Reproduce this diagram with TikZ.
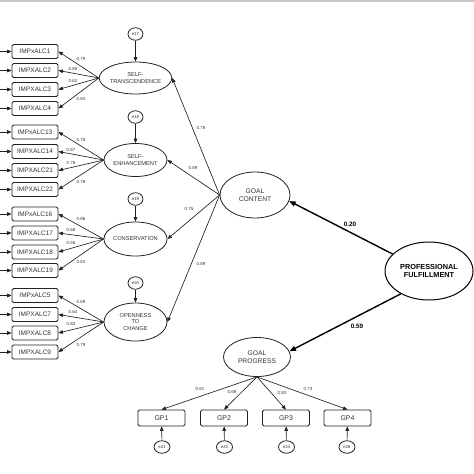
\documentclass[tikz,border=0pt]{standalone}
\usepackage{fontspec}
\setmainfont{Liberation Sans}
\usetikzlibrary{shapes.geometric,arrows.meta}
\definecolor{txt}{HTML}{333333}
\definecolor{ln}{HTML}{222222}
\tikzset{
  obs/.style={draw=ln,rectangle,rounded corners=1.5pt,line width=0.8pt,minimum width=46pt,minimum height=14pt,inner sep=0pt,text=txt,font=\fontsize{6.5}{7}\selectfont},
  gpbox/.style={draw=ln,rectangle,rounded corners=1.5pt,line width=0.8pt,minimum width=47pt,minimum height=16pt,inner sep=0pt,text=txt,font=\fontsize{6.9}{7}\selectfont},
  lat/.style={draw=ln,ellipse,line width=0.8pt,minimum width=63pt,minimum height=32pt,inner sep=0pt,align=center,text=txt,font=\fontsize{5.7}{6.6}\selectfont},
  err/.style={draw=ln,ellipse,line width=0.8pt,minimum width=15pt,minimum height=12.5pt,inner sep=0pt,text=txt,font=\fontsize{4.3}{5}\selectfont},
  arr/.style={draw=ln,line width=0.65pt,-{Triangle[length=4.5pt,width=3.6pt]}},
  thickarr/.style={draw=black,line width=1.4pt,-{Triangle[length=6.5pt,width=5pt]}},
  lbl/.style={text=txt,inner sep=0pt,font=\fontsize{4.4}{5}\selectfont},
  blbl/.style={text=black,inner sep=0pt,font=\bfseries\fontsize{6.3}{7}\selectfont},
}
\begin{document}
\begin{tikzpicture}[x=1pt,y=-1pt]
\useasboundingbox (0,0) rectangle (474,474);
\fill[white] (0,0) rectangle (474,474);
\fill[gray!45] (0,0) rectangle (474,2);

% ---------- group 1 ----------
\node[lat] (f1) at (135.5,78) {SELF-\\TRANSCENDENCE};
\node[err] (e17) at (135.5,34) {e17};
\draw[arr] (e17) -- (f1);
\node[obs] (b1) at (35,51.5) {IMPxALC1};
\node[obs] (b2) at (35,70.5) {IMPXALC2};
\node[obs] (b3) at (35,89.5) {IMPXALC3};
\node[obs] (b4) at (35,108.5) {IMPXALC4};
% ---------- group 2 ----------
\node[lat,minimum height=33pt] (f2) at (135.5,160) {SELF-\\ENHANCEMENT};
\node[err] (e18) at (135.5,117) {e18};
\draw[arr] (e18) -- (f2);
\node[obs] (b13) at (35,132) {IMPxALC13};
\node[obs] (b14) at (35,151.5) {IMPXALC14};
\node[obs] (b21) at (35,170.5) {IMPXALC21};
\node[obs] (b22) at (35,189.5) {IMPXALC22};
% ---------- group 3 ----------
\node[lat,minimum height=34pt] (f3) at (135.5,239) {CONSERVATION};
\node[err] (e19) at (135.5,199) {e19};
\draw[arr] (e19) -- (f3);
\node[obs] (b16) at (35,214) {IMPxALC16};
\node[obs] (b17) at (35,233) {IMPXALC17};
\node[obs] (b18) at (35,252) {IMPXALC18};
\node[obs] (b19) at (35,270.5) {IMPXALC19};
% ---------- group 4 ----------
\node[lat,minimum height=38pt] (f4) at (135.5,322) {OPENNESS\\TO\\CHANGE};
\node[err] (e20) at (135.5,283) {e20};
\draw[arr] (e20) -- (f4);
\node[obs] (b5) at (35,295.5) {IMPxALC5};
\node[obs] (b7) at (35,314.5) {IMPXALC7};
\node[obs] (b8) at (35,333) {IMPXALC8};
\node[obs] (b9) at (35,352) {IMPXALC9};

% loadings to indicators
\foreach \f/\b in {f1/b1,f1/b2,f1/b3,f1/b4,f2/b13,f2/b14,f2/b21,f2/b22,f3/b16,f3/b17,f3/b18,f3/b19,f4/b5,f4/b7,f4/b8,f4/b9}{
  \draw[arr] (\f.west) -- (\b.east);
}
% error arrows entering from the left edge
\foreach \b/\y in {b1/51.5,b2/70.5,b3/89.5,b4/108.5,b13/132,b14/151.5,b21/170.5,b22/189.5,b16/214,b17/233,b18/252,b19/270.5,b5/295.5,b7/314.5,b8/333,b9/352}{
  \coordinate (l\b) at (0,\y);
  \draw[arr] (l\b) -- (\b.west);
}
% loading labels
\node[lbl] (k1) at (81,59) {0.79};
\node[lbl] (k2) at (73,69) {0.85};
\node[lbl] (k3) at (73,81) {0.62};
\node[lbl] (k4) at (81,99) {0.84};
\node[lbl] (k5) at (81,140) {0.78};
\node[lbl] (k6) at (71,150) {0.87};
\node[lbl] (k7) at (71,163) {0.78};
\node[lbl] (k8) at (81,182) {0.78};
\node[lbl] (k9) at (81,219) {0.86};
\node[lbl] (k10) at (71,230) {0.68};
\node[lbl] (k11) at (71,243) {0.55};
\node[lbl] (k12) at (81,262) {0.63};
\node[lbl] (k13) at (81,302) {0.69};
\node[lbl] (k14) at (73,312) {0.64};
\node[lbl] (k15) at (71,324) {0.83};
\node[lbl] (k16) at (81,345) {0.79};

% ---------- second order ----------
\node[lat,minimum width=70pt,minimum height=46pt,font=\fontsize{6.7}{8}\selectfont] (gc) at (255,195) {GOAL\\CONTENT};
\foreach \f in {f1,f2,f3,f4}{ \draw[arr] (gc.west) -- (\f.east); }
\node[lbl] (m1) at (201,128) {0.78};
\node[lbl] (m2) at (193,168) {0.89};
\node[lbl] (m3) at (189,209) {0.75};
\node[lbl] (m4) at (201,264) {0.89};

\node[draw=black,ellipse,line width=1pt,minimum width=88pt,minimum height=58pt,inner sep=0pt,align=center,font=\bfseries\fontsize{7.3}{8.8}\selectfont] (pf) at (429,271) {PROFESSIONAL\\FULFILLMENT};

\node[lat,minimum width=67pt,minimum height=39pt,font=\fontsize{6.7}{8}\selectfont] (gp) at (257,357) {GOAL\\PROGRESS};

\draw[thickarr] (pf.155) -- (gc.-10);
\draw[thickarr] (pf.219) -- (gp.10);
\node[blbl] (w1) at (350,224) {0.20};
\node[blbl] (w2) at (357,326) {0.59};

% ---------- goal progress indicators ----------
\node[gpbox] (g1) at (161.5,418) {GP1};
\node[gpbox] (g2) at (224,418) {GP2};
\node[gpbox] (g3) at (286,418) {GP3};
\node[gpbox] (g4) at (347.5,418) {GP4};
\foreach \g in {g1,g2,g3,g4}{ \draw[arr] (gp.south) -- (\g.north); }
\node[lbl] (n1) at (200,389) {0.61};
\node[lbl] (n2) at (232,392) {0.69};
\node[lbl] (n3) at (282,393) {0.83};
\node[lbl] (n4) at (308,389) {0.73};

\node[err,minimum width=16pt] (e21) at (162,447) {e21};
\node[err,minimum width=16pt] (e23) at (224.5,447) {e23};
\node[err,minimum width=16pt] (e24) at (286.5,447) {e24};
\node[err,minimum width=16pt] (e26) at (347,447) {e26};
\draw[arr] (e21) -- (g1);
\draw[arr] (e23) -- (g2);
\draw[arr] (e24) -- (g3);
\draw[arr] (e26) -- (g4);
\end{tikzpicture}
\end{document}
